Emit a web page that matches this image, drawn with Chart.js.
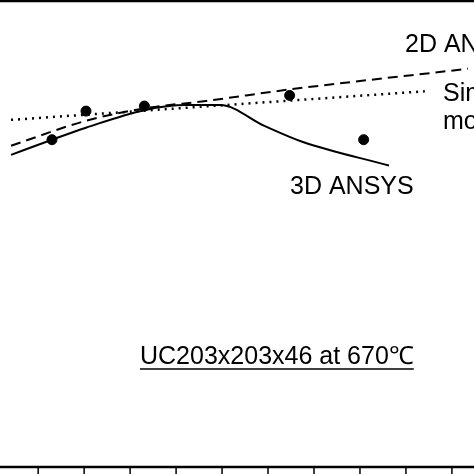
<!DOCTYPE html>
<html>
<head>
<script src="https://cdn.jsdelivr.net/npm/chart.js@4"></script>
<style>html,body{margin:0;padding:0;background:#fff}</style>
</head>
<body>
<div style="width:474px;height:474px"><canvas id="c"></canvas></div>
<script>
// x in tick units, y in percent of plot height
const xTicks = [0, 1, 2, 3, 4, 5, 6, 7, 8, 9];
const testX = [0.30, 1.04, 2.31, 5.47, 7.08];
const testY = [71.0, 77.2, 78.3, 80.6, 71.0];
const ansys3dX = [-0.59, 0.30, 1.04, 2.31, 3.22, 3.96, 4.92, 5.76, 7.63];
const ansys3dY = [67.7, 71.0, 73.6, 77.4, 78.5, 78.5, 74.0, 70.5, 65.4];
const ansys2dX = [-0.59, 1.04, 2.31, 3.65, 5.47, 9.45];
const ansys2dY = [69.7, 75.1, 77.8, 79.4, 81.9, 86.5];
const simpleX = [-0.59, 8.41];
const simpleY = [75.3, 81.5];

const pts = (xs, ys) => xs.map((x, i) => ({ x, y: ys[i] }));
const FONT = "'Liberation Sans', Arial, sans-serif";

const decor = {
  id: 'decor',
  afterDraw(chart) {
    const ctx = chart.ctx, a = chart.chartArea, sx = chart.scales.x;
    ctx.save();
    ctx.strokeStyle = '#000';
    ctx.lineWidth = 2.5;
    ctx.beginPath();
    ctx.moveTo(0, 1); ctx.lineTo(474, 1);
    ctx.moveTo(0, a.bottom); ctx.lineTo(474, a.bottom);
    ctx.stroke();
    ctx.lineWidth = 1.5;
    xTicks.forEach(t => {
      const px = sx.getPixelForValue(t);
      ctx.beginPath(); ctx.moveTo(px, a.bottom); ctx.lineTo(px, 474); ctx.stroke();
    });
    ctx.fillStyle = '#000';
    ctx.font = '25px ' + FONT;
    ctx.textBaseline = 'alphabetic';
    ctx.fillText('2D ANSYS', 405, 52);
    ctx.fillText('Simple', 443, 101);
    ctx.fillText('model', 443, 129);
    ctx.fillText('3D ANSYS', 290, 194);
    const label = 'UC203x203x46 at 670\u2103';
    const w = ctx.measureText(label).width;
    ctx.fillText(label, 140, 364);
    ctx.lineWidth = 1.5;
    ctx.beginPath(); ctx.moveTo(140, 369); ctx.lineTo(140 + w, 369); ctx.stroke();
    ctx.restore();
  }
};

new Chart(document.getElementById('c'), {
  type: 'scatter',
  data: {
    datasets: [
      { data: pts(ansys3dX, ansys3dY), showLine: true, borderColor: '#000', borderWidth: 2, pointRadius: 0, cubicInterpolationMode: 'monotone' },
      { data: pts(ansys2dX, ansys2dY), showLine: true, borderColor: '#000', borderWidth: 2, borderDash: [10, 6], pointRadius: 0, cubicInterpolationMode: 'monotone' },
      { data: pts(simpleX, simpleY), showLine: true, borderColor: '#000', borderWidth: 2.5, borderDash: [2, 5], pointRadius: 0 },
      { data: pts(testX, testY), showLine: false, backgroundColor: '#000', borderColor: '#000', pointRadius: 5 }
    ]
  },
  options: {
    animation: false,
    responsive: true,
    maintainAspectRatio: false,
    layout: { padding: { top: 2, bottom: 7, left: 0, right: 0 } },
    plugins: { legend: { display: false }, tooltip: { enabled: false } },
    scales: {
      x: { type: 'linear', min: -0.7, max: 9.35, display: false },
      y: { min: 0, max: 100, display: false }
    }
  },
  plugins: [decor]
});
</script>
</body>
</html>
